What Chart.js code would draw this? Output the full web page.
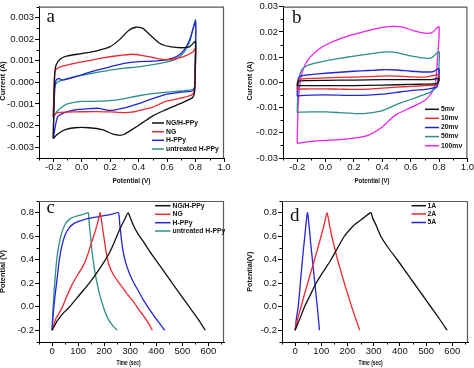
<!DOCTYPE html>
<html>
<head>
<meta charset="utf-8">
<script src="https://cdn.jsdelivr.net/npm/chart.js@4.4.0/dist/chart.umd.min.js"></script>
<style>
  html, body { margin: 0; padding: 0; background: #fff; }
  #wrap { position: relative; width: 474px; height: 368px; overflow: hidden; }
  #wrap canvas { position: absolute; left: 0; top: 0; }
</style>
</head>
<body>
<div id="wrap">
  <canvas id="cvA" width="474" height="368"></canvas>
  <canvas id="cvB" width="474" height="368"></canvas>
  <canvas id="cvC" width="474" height="368"></canvas>
  <canvas id="cvD" width="474" height="368"></canvas>
</div>
<script>
// ---- panel a: CV loops, potential (V) vs current (A) ----
const cvNgHppy = [[-0.2,-0.0026],[-0.196,-0.0012],[-0.19,0.0003],[-0.18,0.0008],[-0.15,0.00108],[-0.1,0.00122],[0.0,0.00133],[0.1,0.00145],[0.2,0.00165],[0.27,0.002],[0.33,0.0024],[0.38,0.00255],[0.43,0.0025],[0.48,0.0022],[0.55,0.0018],[0.62,0.00165],[0.7,0.0016],[0.76,0.00165],[0.8,0.0019],
  [0.798,0.0006],[0.794,-0.0004],[0.78,-0.0007],[0.72,-0.0009],[0.65,-0.0011],[0.58,-0.0013],[0.5,-0.00155],[0.42,-0.0019],[0.35,-0.0022],[0.3,-0.0024],[0.27,-0.00245],[0.22,-0.0024],[0.15,-0.0022],[0.05,-0.0021],[-0.05,-0.0021],[-0.12,-0.0022],[-0.17,-0.0024],[-0.2,-0.0026]];
const cvNg = [[-0.2,-0.00158],[-0.196,-0.0005],[-0.19,0.0004],[-0.18,0.0006],[-0.15,0.00072],[-0.05,0.00088],[0.05,0.001],[0.15,0.00113],[0.25,0.00123],[0.35,0.0013],[0.42,0.00125],[0.5,0.00115],[0.58,0.00105],[0.65,0.00108],[0.72,0.0012],[0.78,0.0014],[0.8,0.00158],
  [0.798,0.0005],[0.794,-0.0003],[0.78,-0.00055],[0.72,-0.0007],[0.65,-0.0008],[0.58,-0.0009],[0.5,-0.00115],[0.42,-0.00128],[0.35,-0.00138],[0.3,-0.0014],[0.2,-0.00137],[0.1,-0.00135],[0.0,-0.00136],[-0.1,-0.00138],[-0.17,-0.0014],[-0.19,-0.0015],[-0.2,-0.00158]];
const cvHppy = [[-0.2,-0.0026],[-0.196,-0.0015],[-0.19,-0.0004],[-0.18,0.0001],[-0.16,0.00018],[-0.14,0.0001],[-0.1,0.00015],[0.0,0.00035],[0.1,0.00055],[0.2,0.00072],[0.3,0.00088],[0.4,0.00096],[0.5,0.00098],[0.6,0.00105],[0.67,0.0012],[0.72,0.0015],[0.76,0.002],[0.8,0.0028],
  [0.798,0.001],[0.794,-0.0002],[0.78,-0.0004],[0.7,-0.00045],[0.6,-0.00055],[0.5,-0.00075],[0.4,-0.00098],[0.3,-0.00118],[0.2,-0.0013],[0.12,-0.0012],[0.05,-0.00122],[-0.05,-0.00128],[-0.12,-0.0014],[-0.17,-0.0016],[-0.2,-0.0026]];
const cvUntreated = [[-0.2,-0.00165],[-0.196,-0.0008],[-0.19,-0.0002],[-0.17,0.0],[-0.14,0.0001],[-0.1,0.00018],[0.0,0.00033],[0.1,0.00045],[0.2,0.00057],[0.3,0.00066],[0.4,0.00072],[0.5,0.00082],[0.6,0.00095],[0.67,0.0011],[0.72,0.0014],[0.76,0.0019],[0.8,0.0029],
  [0.798,0.001],[0.794,-0.0002],[0.78,-0.00034],[0.7,-0.0004],[0.6,-0.00045],[0.5,-0.00052],[0.4,-0.00062],[0.3,-0.00075],[0.2,-0.00085],[0.1,-0.00088],[0.0,-0.00088],[-0.1,-0.001],[-0.15,-0.0012],[-0.18,-0.0014],[-0.2,-0.00165]];
const labelsA = ['NG/H-PPy', 'NG', 'H-PPy', 'untreated H-PPy'];
const xTicksCv = [-0.2, 0.0, 0.2, 0.4, 0.6, 0.8, 1.0];
const yTicksA = [-0.003, -0.002, -0.001, 0, 0.001, 0.002, 0.003];

// ---- panel b: CV at different scan rates ----
const cv5 = [[-0.2,-0.0013],[-0.198,-0.0002],[-0.19,0.0005],[-0.15,0.0007],[0.0,0.0008],[0.2,0.0009],[0.4,0.0011],[0.6,0.0011],[0.75,0.0011],[0.8,0.0016],
  [0.797,0.0002],[0.785,-0.0005],[0.7,-0.0007],[0.6,-0.0008],[0.4,-0.0011],[0.2,-0.0013],[0.0,-0.0013],[-0.2,-0.0013]];
const cv10 = [[-0.2,-0.0027],[-0.198,-0.0005],[-0.19,0.001],[-0.17,0.0013],[-0.1,0.0016],[0.0,0.0018],[0.2,0.0021],[0.4,0.0025],[0.5,0.0025],[0.6,0.0022],[0.7,0.0021],[0.8,0.0029],
  [0.797,0.0005],[0.785,-0.001],[0.7,-0.0013],[0.6,-0.0016],[0.5,-0.0019],[0.4,-0.0023],[0.3,-0.0027],[0.2,-0.0028],[0.1,-0.0027],[0.0,-0.0026],[-0.1,-0.0026],[-0.2,-0.0027]];
const cv20 = [[-0.2,-0.0055],[-0.198,-0.001],[-0.19,0.0018],[-0.17,0.0026],[-0.1,0.0031],[0.0,0.0036],[0.1,0.004],[0.2,0.0044],[0.3,0.0047],[0.4,0.005],[0.5,0.0049],[0.6,0.0044],[0.7,0.0041],[0.76,0.0043],[0.8,0.0055],
  [0.797,0.001],[0.785,-0.0018],[0.7,-0.0028],[0.6,-0.0033],[0.5,-0.004],[0.4,-0.0047],[0.3,-0.0051],[0.2,-0.0052],[0.1,-0.0051],[0.0,-0.005],[-0.1,-0.0051],[-0.18,-0.0053],[-0.2,-0.0055]];
const cv50 = [[-0.2,-0.012],[-0.195,-0.004],[-0.185,0.002],[-0.17,0.0048],[-0.14,0.0063],[-0.1,0.0072],[0.0,0.0085],[0.1,0.0095],[0.2,0.0104],[0.3,0.0112],[0.4,0.012],[0.45,0.0121],[0.5,0.0118],[0.6,0.0105],[0.7,0.0096],[0.75,0.0098],[0.8,0.0122],
  [0.795,0.003],[0.78,-0.002],[0.74,-0.0038],[0.7,-0.0048],[0.6,-0.0068],[0.5,-0.0088],[0.4,-0.0112],[0.3,-0.0122],[0.22,-0.0124],[0.1,-0.012],[0.0,-0.0117],[-0.1,-0.0117],[-0.18,-0.0118],[-0.2,-0.012]];
const cv100 = [[-0.2,-0.0242],[-0.195,-0.012],[-0.185,-0.003],[-0.17,0.003],[-0.14,0.0075],[-0.1,0.0105],[-0.05,0.013],[0.0,0.0148],[0.1,0.0172],[0.2,0.019],[0.3,0.0205],[0.4,0.0218],[0.48,0.0222],[0.55,0.0218],[0.62,0.0205],[0.7,0.0195],[0.75,0.0197],[0.8,0.022],
  [0.79,0.01],[0.775,0.0],[0.75,-0.004],[0.7,-0.0072],[0.6,-0.01],[0.5,-0.0127],[0.45,-0.015],[0.4,-0.0177],[0.3,-0.021],[0.2,-0.0221],[0.1,-0.0227],[0.0,-0.023],[-0.1,-0.0234],[-0.18,-0.024],[-0.2,-0.0242]];
const labelsB = ['5mv', '10mv', '20mv', '50mv', '100mv'];
const yTicksB = [-0.03, -0.02, -0.01, 0, 0.01, 0.02, 0.03];

// ---- panel c: charge/discharge of the four electrodes, time (s) vs potential (V) ----
const gcdNgHppy = [[0,-0.2],[20,-0.12],[45,-0.05],[68,0.0],[105,0.1],[146,0.21],[185,0.33],[223,0.47],[245,0.58],[262,0.67],[278,0.74],[292,0.8],
  [300,0.76],[313,0.69],[330,0.62],[352,0.55],[378,0.46],[404,0.38],[436,0.28],[468,0.18],[500,0.08],[533,-0.02],[562,-0.11],[588,-0.2]];
const gcdNg = [[0,-0.2],[15,-0.1],[36,-0.02],[55,0.08],[75,0.18],[98,0.27],[120,0.35],[138,0.45],[152,0.55],[164,0.63],[172,0.69],[180,0.76],[185,0.8],
  [192,0.7],[200,0.58],[208,0.46],[218,0.36],[236,0.27],[255,0.21],[275,0.15],[295,0.09],[314,0.04],[335,-0.03],[352,-0.08],[370,-0.14],[385,-0.2]];
const gcdHppy = [[0,-0.2],[5,-0.05],[12,0.1],[20,0.25],[28,0.4],[38,0.52],[50,0.61],[65,0.67],[85,0.71],[120,0.74],[160,0.76],[200,0.775],[235,0.79],[255,0.8],
  [260,0.7],[265,0.6],[272,0.48],[282,0.38],[296,0.29],[312,0.21],[330,0.14],[350,0.06],[370,-0.01],[392,-0.08],[412,-0.14],[432,-0.2]];
const gcdUntreated = [[0,-0.2],[3,-0.05],[7,0.1],[12,0.25],[18,0.4],[26,0.52],[36,0.62],[50,0.7],[70,0.75],[100,0.775],[125,0.79],[139,0.8],
  [143,0.7],[148,0.6],[153,0.48],[159,0.38],[165,0.29],[172,0.21],[181,0.12],[191,0.04],[203,-0.04],[217,-0.11],[233,-0.16],[250,-0.2]];
const xTicksGcd = [0, 100, 200, 300, 400, 500, 600];
const yTicksGcd = [-0.2, 0.0, 0.2, 0.4, 0.6, 0.8];

// ---- panel d: NG/H-PPy at different currents ----
const gcd1A = [[0,-0.2],[15,-0.12],[36,0.0],[58,0.1],[80,0.2],[108,0.3],[137,0.4],[162,0.5],[188,0.6],[210,0.66],[228,0.7],[258,0.75],[289,0.8],
  [297,0.75],[308,0.7],[327,0.6],[356,0.5],[390,0.4],[422,0.3],[454,0.2],[486,0.1],[518,0.0],[550,-0.1],[580,-0.2]];
const gcd2A = [[0,-0.2],[10,-0.1],[23,0.0],[35,0.1],[48,0.2],[61,0.3],[74,0.4],[87,0.5],[99,0.6],[111,0.7],[122,0.8],
  [131,0.7],[140,0.6],[151,0.5],[162,0.4],[175,0.3],[188,0.2],[202,0.1],[216,0.0],[231,-0.1],[247,-0.2]];
const gcd5A = [[0,-0.2],[5,-0.1],[12,0.0],[20,0.2],[28,0.4],[37,0.6],[47,0.8],
  [53,0.7],[59,0.55],[66,0.4],[73,0.25],[80,0.1],[87,-0.05],[93,-0.2]];
const labelsD = ['1A', '2A', '5A'];

const SANS = '"Liberation Sans", Arial, sans-serif';
const SERIF = '"Liberation Serif", "Times New Roman", serif';
const W = 474;
const H = 368;
const BLACK = '#111111';
const RED = '#f0282d';
const BLUE = '#2424dc';
const TEAL = '#2b9088';
const MAGENTA = '#f020f0';

function toPoints(pairs) {
  return pairs.map(([x, y]) => ({ x, y }));
}

function minorValues(ticks, min, max) {
  const step = ticks[1] - ticks[0];
  const out = [];
  for (let i = 0; i < ticks.length - 1; i += 1) {
    out.push((ticks[i] + ticks[i + 1]) / 2);
  }
  const before = ticks[0] - step / 2;
  const after = ticks[ticks.length - 1] + step / 2;
  if (before >= min - 1e-9) out.unshift(before);
  if (after <= max + 1e-9) out.push(after);
  return out;
}

const panelDecor = {
  id: 'panelDecor',
  afterDraw(chart, args, opts) {
    const ctx = chart.ctx;
    const { left, right, top, bottom } = chart.chartArea;
    const xs = chart.scales.x;
    const ys = chart.scales.y;
    ctx.save();
    // grey top/right frame
    ctx.strokeStyle = '#5a5a5a';
    ctx.lineWidth = 1.2;
    ctx.beginPath();
    ctx.moveTo(left, top + 0.5);
    ctx.lineTo(right - 0.5, top + 0.5);
    ctx.lineTo(right - 0.5, bottom);
    ctx.stroke();
    // minor ticks
    ctx.strokeStyle = '#000';
    ctx.lineWidth = 1;
    minorValues(opts.xTicks, xs.min, xs.max).forEach((v) => {
      const p = Math.round(xs.getPixelForValue(v)) + 0.5;
      ctx.beginPath();
      ctx.moveTo(p, bottom);
      ctx.lineTo(p, bottom + 2.5);
      ctx.stroke();
    });
    minorValues(opts.yTicks, ys.min, ys.max).forEach((v) => {
      const p = Math.round(ys.getPixelForValue(v)) + 0.5;
      ctx.beginPath();
      ctx.moveTo(left, p);
      ctx.lineTo(left - 2.5, p);
      ctx.stroke();
    });
    // legend
    const lg = opts.legend;
    ctx.font = `bold 6.8px ${SANS}`;
    ctx.textAlign = 'left';
    ctx.textBaseline = 'middle';
    chart.data.datasets.forEach((ds, i) => {
      const y = lg.rows[i];
      ctx.strokeStyle = ds.borderColor;
      ctx.lineWidth = 1.5;
      ctx.beginPath();
      ctx.moveTo(lg.x1, y);
      ctx.lineTo(lg.x2, y);
      ctx.stroke();
      ctx.fillStyle = '#111';
      ctx.fillText(ds.label, lg.tx, y);
    });
    // panel letter
    ctx.font = `19px ${SERIF}`;
    ctx.textBaseline = 'alphabetic';
    ctx.fillText(opts.letter.text, opts.letter.x, opts.letter.y);
    // axis titles
    ctx.fillStyle = '#111';
    ctx.textAlign = 'center';
    ctx.textBaseline = 'middle';
    ctx.font = `bold 7px ${SANS}`;
    ctx.fillText(opts.xTitle.text, opts.xTitle.x, opts.xTitle.y, opts.xTitle.w);
    ctx.translate(opts.yTitle.x, opts.yTitle.y);
    ctx.rotate(-Math.PI / 2);
    ctx.font = `bold 7.5px ${SANS}`;
    ctx.fillText(opts.yTitle.text, 0, 0, opts.yTitle.w);
    ctx.restore();
  },
};

function makePanel(id, cfg) {
  const box = cfg.box;
  const axisCommon = {
    type: 'linear',
    grid: { drawOnChartArea: false, drawTicks: true, tickLength: 4, color: '#000', lineWidth: 1 },
    border: { display: true, color: '#000', width: 1 },
  };
  return new Chart(document.getElementById(id), {
    type: 'scatter',
    data: {
      datasets: cfg.series.map((s) => ({
        label: s.label,
        data: toPoints(s.data),
        borderColor: s.color,
        backgroundColor: s.color,
        showLine: true,
        pointRadius: 0,
        borderWidth: 1.3,
        tension: 0.2,
      })),
    },
    options: {
      responsive: false,
      animation: false,
      devicePixelRatio: 1,
      events: [],
      layout: {
        autoPadding: false,
        padding: { left: 0, top: box.top, right: W - box.right, bottom: 0 },
      },
      plugins: {
        legend: { display: false },
        tooltip: { enabled: false },
        panelDecor: cfg.decor,
      },
      scales: {
        x: {
          ...axisCommon,
          position: 'bottom',
          min: cfg.xRange[0],
          max: cfg.xRange[1],
          afterFit(scale) { scale.height = H - box.bottom; },
          afterBuildTicks(scale) {
            scale.min = cfg.xRange[0];
            scale.max = cfg.xRange[1];
            scale.ticks = cfg.decor.xTicks.map((v) => ({ value: v }));
          },
          ticks: {
            autoSkip: false,
            maxRotation: 0,
            minRotation: 0,
            padding: 0,
            color: '#111',
            font: { family: SANS, size: 9.5 },
            callback: (v) => Number(v).toFixed(cfg.xDigits),
          },
        },
        y: {
          ...axisCommon,
          position: 'left',
          min: cfg.yRange[0],
          max: cfg.yRange[1],
          afterFit(scale) { scale.width = box.left; },
          afterBuildTicks(scale) {
            scale.min = cfg.yRange[0];
            scale.max = cfg.yRange[1];
            scale.ticks = cfg.decor.yTicks.map((v) => ({ value: v }));
          },
          ticks: {
            autoSkip: false,
            padding: 1,
            color: '#111',
            font: { family: SANS, size: 9.5 },
            callback: (v) => Number(v).toFixed(cfg.yDigits),
          },
        },
      },
    },
    plugins: [panelDecor],
  });
}

makePanel('cvA', {
  box: { left: 39, top: 4, right: 224, bottom: 158 },
  xRange: [-0.3, 1.0],
  yRange: [-0.0035, 0.0035],
  xDigits: 1,
  yDigits: 3,
  series: [
    { label: labelsA[0], data: cvNgHppy, color: BLACK },
    { label: labelsA[1], data: cvNg, color: RED },
    { label: labelsA[2], data: cvHppy, color: BLUE },
    { label: labelsA[3], data: cvUntreated, color: TEAL },
  ],
  decor: {
    xTicks: xTicksCv,
    yTicks: yTicksA,
    legend: { x1: 152, x2: 164, tx: 166, rows: [123, 131.7, 140.3, 149] },
    letter: { text: 'a', x: 46.5, y: 21.5 },
    xTitle: { text: 'Potential (V)', x: 131.5, y: 181.5, w: 38 },
    yTitle: { text: 'Current (A)', x: 2.5, y: 81, w: 42 },
  },
});

makePanel('cvB', {
  box: { left: 283, top: 3, right: 469, bottom: 158 },
  xRange: [-0.3, 1.0],
  yRange: [-0.03, 0.03],
  xDigits: 1,
  yDigits: 2,
  series: [
    { label: labelsB[0], data: cv5, color: BLACK },
    { label: labelsB[1], data: cv10, color: RED },
    { label: labelsB[2], data: cv20, color: BLUE },
    { label: labelsB[3], data: cv50, color: TEAL },
    { label: labelsB[4], data: cv100, color: MAGENTA },
  ],
  decor: {
    xTicks: xTicksCv,
    yTicks: yTicksB,
    legend: { x1: 425, x2: 439, tx: 441, rows: [109.3, 118.3, 127.5, 136.6, 145.7] },
    letter: { text: 'b', x: 292, y: 23 },
    xTitle: { text: 'Potential (V)', x: 372, y: 181.5, w: 35 },
    yTitle: { text: 'Current (A)', x: 250, y: 81, w: 39 },
  },
});

makePanel('cvC', {
  box: { left: 39, top: 201, right: 224, bottom: 342 },
  xRange: [-50, 660],
  yRange: [-0.3, 0.9],
  xDigits: 0,
  yDigits: 1,
  series: [
    { label: labelsA[0], data: gcdNgHppy, color: BLACK },
    { label: labelsA[1], data: gcdNg, color: RED },
    { label: labelsA[2], data: gcdHppy, color: BLUE },
    { label: labelsA[3], data: gcdUntreated, color: TEAL },
  ],
  decor: {
    xTicks: xTicksGcd,
    yTicks: yTicksGcd,
    legend: { x1: 155, x2: 170.5, tx: 172.5, rows: [205.7, 214.3, 222.7, 231] },
    letter: { text: 'c', x: 46.5, y: 212.5 },
    xTitle: { text: 'Time (sec)', x: 128.5, y: 363.3, w: 24 },
    yTitle: { text: 'Potential (V)', x: 2.5, y: 271.5, w: 43 },
  },
});

makePanel('cvD', {
  box: { left: 282, top: 201, right: 468, bottom: 342 },
  xRange: [-50, 660],
  yRange: [-0.3, 0.9],
  xDigits: 0,
  yDigits: 1,
  series: [
    { label: labelsD[0], data: gcd1A, color: BLACK },
    { label: labelsD[1], data: gcd2A, color: RED },
    { label: labelsD[2], data: gcd5A, color: BLUE },
  ],
  decor: {
    xTicks: xTicksGcd,
    yTicks: yTicksGcd,
    legend: { x1: 411.5, x2: 426, tx: 427.5, rows: [205.7, 214, 222.5] },
    letter: { text: 'd', x: 290, y: 221 },
    xTitle: { text: 'Time (sec)', x: 370.5, y: 363.3, w: 24 },
    yTitle: { text: 'Potential(V)', x: 249.5, y: 271.7, w: 40 },
  },
});
</script>
</body>
</html>
